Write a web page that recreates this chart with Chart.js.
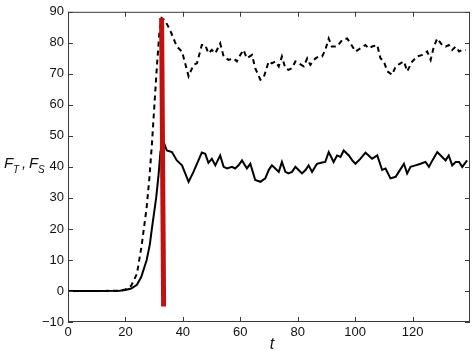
<!DOCTYPE html>
<html>
<head>
<meta charset="utf-8">
<script src="https://cdn.jsdelivr.net/npm/chart.js@4"></script>
<style>
  html, body { margin: 0; padding: 0; background: #fff; }
  #wrap { width: 474px; height: 351px; }
</style>
</head>
<body>
<div id="wrap"><canvas id="myChart" width="474" height="351"></canvas></div>
<script>
// values
var xTicks = [0, 20, 40, 60, 80, 100, 120];
var yTicks = [-10, 0, 10, 20, 30, 40, 50, 60, 70, 80, 90];

// F_T (dashed)
var dashT = [0, 10, 18, 20, 22, 24, 25.7, 27.4, 28.3, 29.2, 30.1, 31, 31.8, 32.6, 33.8, 35.6, 37.9, 39.7, 42, 43.7, 44.9, 46.6, 47.8, 48.9, 50.1, 51.3, 53, 54.2, 55.9, 57.7, 58.8, 60, 61.1, 62.3, 64.1, 65.2, 67, 68.1, 69.9, 71, 72.2, 73.4, 74.5, 75.7, 76.8, 78, 79.2, 80.3, 82.1, 83.3, 84.4, 86.2, 87.3, 88.5, 89.6, 90.8, 91.9, 93.7, 95.5, 97.2, 98.4, 100.1, 101.8, 103.6, 104.7, 105.9, 107.7, 108.8, 110, 111.2, 112.9, 114.1, 115.8, 117, 118.1, 119.9, 121.6, 123.4, 125.1, 126.3, 127.4, 128.6, 130.3, 131.5, 132.6, 133.8, 135, 136.2, 137.3, 138.5];
var dashV = [0, 0, 0.1, 0.5, 1.7, 5.5, 15, 27, 36, 47, 60, 73, 83, 88, 87.2, 84, 78.8, 77.2, 69.2, 72.9, 73.4, 79.3, 79.3, 76.6, 77.7, 76.6, 79.8, 75.6, 74.5, 75, 74, 76.1, 77.7, 75, 76.1, 71.8, 68.1, 68.7, 74, 73.4, 74, 72.4, 75.6, 71.8, 71.3, 71.8, 74, 73.4, 72.4, 75, 72.9, 75, 75.6, 75.6, 77.7, 81.4, 78.8, 78.8, 80.9, 81.4, 79.8, 77.2, 78.2, 79.3, 78.2, 78.8, 79.3, 75, 74, 70.8, 69.7, 72.4, 73.4, 74, 70.8, 74, 75.6, 76.1, 77.2, 74.5, 78.8, 81.4, 79.3, 78.8, 79.3, 77.7, 78.8, 77.2, 77.7, 77.7];

// F_S (solid)
var solidT = [0, 10, 18, 20, 22, 24, 25.5, 27.4, 28.5, 29.2, 30.7, 31.5, 32.2, 33.3, 34.4, 36.2, 37.9, 39.7, 42, 43.7, 44.9, 46.6, 47.8, 48.9, 50.1, 51.3, 53, 54.2, 55.4, 57.1, 58.2, 59.4, 60.6, 62.3, 63.5, 65.2, 67, 68.7, 69.9, 71, 72.2, 73.4, 74.5, 75.7, 76.8, 78, 79.2, 80.3, 81.5, 82.7, 83.8, 85, 86.7, 88.5, 89.6, 90.8, 92.5, 93.7, 94.9, 96, 97.8, 99, 100.1, 101.8, 103.6, 104.7, 105.9, 107.7, 109.4, 110.6, 112.3, 114.1, 115.2, 117, 118.1, 119.3, 121, 122.8, 124.5, 125.7, 126.9, 128.6, 130.3, 131.5, 132.6, 133.8, 135, 136.2, 137.3, 139];
var solidV = [0, 0, 0.1, 0.3, 0.8, 2, 4.5, 10, 15, 20, 30, 37, 45, 48, 45.3, 44.8, 42.1, 40.5, 35.2, 38.4, 41, 44.6, 44.2, 41.3, 42.6, 40.5, 43.7, 40, 39.5, 40, 39.5, 40.5, 42.1, 39.5, 41, 35.8, 35.2, 36.3, 39, 40.5, 39.5, 38.4, 41.6, 38.4, 37.9, 38.4, 40, 39, 37.9, 39, 40.5, 38.4, 41, 41.4, 41.6, 44.8, 41.6, 43.7, 43.2, 45.3, 43.7, 42.1, 41, 42.6, 44.6, 43.7, 42.6, 43.7, 39, 39.5, 36.3, 36.8, 38.4, 41, 37.9, 40, 40.5, 41, 41.6, 40, 42.1, 44.8, 43.2, 42.1, 43.7, 40.5, 41.6, 41.6, 40, 42.1];

// red marker line
var redT = [32.6, 33.3];
var redV = [88, -5];

function toPoints(xs, ys) {
    var pts = [];
    for (var i = 0; i < xs.length; i++) {
        pts.push({ x: xs[i], y: ys[i] });
    }
    return pts;
}

var fontFamily = '"Liberation Sans", Arial, sans-serif';

// box, inward ticks on all four sides, and the axis labels
var matlabAxes = {
    id: 'matlabAxes',
    afterDraw: function(chart) {
        var ctx = chart.ctx;
        var a = chart.chartArea;
        var xs = chart.scales.x;
        var ys = chart.scales.y;
        ctx.save();
        ctx.strokeStyle = '#3a3a3a';
        ctx.lineWidth = 1;
        ctx.strokeRect(a.left + 0.5, a.top + 0.5, a.right - a.left - 1, a.bottom - a.top - 1);
        ctx.beginPath();
        xTicks.forEach(function(v) {
            var px = Math.round(xs.getPixelForValue(v)) + 0.5;
            ctx.moveTo(px, a.bottom); ctx.lineTo(px, a.bottom - 5);
            ctx.moveTo(px, a.top); ctx.lineTo(px, a.top + 5);
        });
        yTicks.forEach(function(v) {
            var py = Math.round(ys.getPixelForValue(v)) + 0.5;
            ctx.moveTo(a.left, py); ctx.lineTo(a.left + 5, py);
            ctx.moveTo(a.right, py); ctx.lineTo(a.right - 5, py);
        });
        ctx.stroke();

        ctx.fillStyle = '#111';
        ctx.textBaseline = 'alphabetic';
        ctx.textAlign = 'left';
        // y label F_T , F_S
        ctx.font = 'italic 15px ' + fontFamily;
        ctx.fillText('F', 4, 168);
        ctx.font = 'italic 10px ' + fontFamily;
        ctx.fillText('T', 13, 173);
        ctx.font = 'italic 15px ' + fontFamily;
        ctx.fillText(',', 22, 168);
        ctx.fillText('F', 29, 168);
        ctx.font = 'italic 10px ' + fontFamily;
        ctx.fillText('S', 38, 173);
        // x label
        ctx.font = 'italic 16px ' + fontFamily;
        ctx.textAlign = 'center';
        ctx.fillText('t', (a.left + a.right) / 2 + 3, 349);
        ctx.restore();
    }
};

var ctx = document.getElementById('myChart').getContext('2d');
var myChart = new Chart(ctx, {
    type: 'line',
    data: {
        datasets: [{
            label: 'marker',
            data: toPoints(redT, redV),
            borderColor: '#c0110f',
            borderWidth: 5,
            borderCapStyle: 'butt',
            pointRadius: 0,
            order: 0
        },
        {
            label: 'F_T',
            data: toPoints(dashT, dashV),
            borderColor: '#000',
            borderWidth: 2,
            borderDash: [5, 4],
            pointRadius: 0,
            order: 1
        },
        {
            label: 'F_S',
            data: toPoints(solidT, solidV),
            borderColor: '#000',
            borderWidth: 2,
            pointRadius: 0,
            order: 2
        }]
    },
    options: {
        responsive: false,
        animation: false,
        layout: { padding: { top: 8, right: 4, left: 0, bottom: 0 } },
        plugins: { legend: { display: false }, tooltip: { enabled: false } },
        scales: {
            x: {
                type: 'linear',
                min: 0,
                max: 140,
                afterFit: function(scale) { scale.height = 29; },
                grid: { display: false, drawTicks: false },
                border: { display: false },
                ticks: {
                    stepSize: 20,
                    padding: 3,
                    maxRotation: 0,
                    color: '#111',
                    font: { family: fontFamily, size: 13 },
                    callback: function(value) {
                        return value >= 140 ? '' : value;
                    }
                }
            },
            y: {
                min: -10,
                max: 90,
                afterFit: function(scale) { scale.width = 68; },
                grid: { display: false, drawTicks: false },
                border: { display: false },
                ticks: {
                    stepSize: 10,
                    padding: 4,
                    color: '#111',
                    font: { family: fontFamily, size: 13 },
                    callback: function(value) {
                        return value < 0 ? '\u2212' + Math.abs(value) : value;
                    }
                }
            }
        }
    },
    plugins: [matlabAxes]
});
</script>
</body>
</html>
